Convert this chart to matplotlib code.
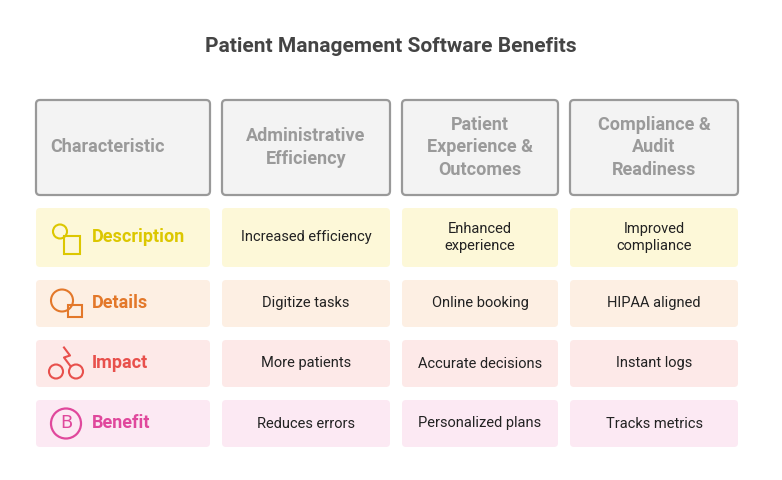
import matplotlib
matplotlib.use("Agg")
import matplotlib.pyplot as plt
from matplotlib.patches import FancyBboxPatch, Circle, Rectangle

title = "Patient Management Software Benefits"
headers = ["Characteristic", "Administrative\nEfficiency", "Patient\nExperience &\nOutcomes", "Compliance &\nAudit\nReadiness"]
row_labels = ["Description", "Details", "Impact", "Benefit"]
cells = [
    ["Increased efficiency", "Enhanced\nexperience", "Improved\ncompliance"],
    ["Digitize tasks", "Online booking", "HIPAA aligned"],
    ["More patients", "Accurate decisions", "Instant logs"],
    ["Reduces errors", "Personalized plans", "Tracks metrics"],
]
row_fill = ["#fdf8d8", "#fdefe3", "#fde9e8", "#fce9f3"]
row_color = ["#dcc700", "#e3782a", "#e8504c", "#e0489c"]

col_x = [(36, 210), (222, 390), (402, 558), (570, 738)]
row_y = [(208, 267), (280, 327), (340, 387), (400, 447)]
head_y = (100, 195)

fig = plt.figure(figsize=(7.82, 4.8), dpi=100)
ax = fig.add_axes([0, 0, 1, 1])
ax.set_xlim(0, 782); ax.set_ylim(480, 0); ax.axis("off")

def box(x0, x1, y0, y1, fc, ec=None, lw=0):
    ax.add_patch(FancyBboxPatch((x0 + 3, y0 + 3), x1 - x0 - 6, y1 - y0 - 6,
                                boxstyle="round,pad=3,rounding_size=4",
                                fc=fc, ec=ec if ec else fc, lw=lw))

ax.text(391, 47, title, ha="center", va="center", fontsize=15, fontweight="bold",
        color="#444444", family="Roboto")

for i, (x0, x1) in enumerate(col_x):
    box(x0, x1, *head_y, "#f3f3f3", "#999999", 1.6)
    cx = (x0 + x1) / 2 if i else x0 + 14
    ax.text(cx, (head_y[0] + head_y[1]) / 2, headers[i], ha="center" if i else "left",
            va="center", fontsize=13, fontweight="bold", color="#9a9a9a",
            family="Roboto", linespacing=1.3)

for r, (y0, y1) in enumerate(row_y):
    cy = (y0 + y1) / 2
    for c, (x0, x1) in enumerate(col_x):
        box(x0, x1, y0, y1, row_fill[r])
        if c == 0:
            ax.text(92, cy, row_labels[r], ha="left", va="center", fontsize=13,
                    fontweight="bold", color=row_color[r], family="Roboto")
        else:
            ax.text((x0 + x1) / 2, cy, cells[r][c - 1], ha="center", va="center",
                    fontsize=10.5, color="#222222", family="Roboto", linespacing=1.3)
    # simple icons
    col = row_color[r]
    ix = 66
    if r == 0:
        ax.add_patch(Circle((ix - 6, cy - 6), 7, fill=False, ec=col, lw=1.5))
        ax.add_patch(Rectangle((ix - 2, cy - 2), 16, 18, fill=False, ec=col, lw=1.5))
    elif r == 1:
        ax.add_patch(Circle((ix - 4, cy - 3), 11, fill=False, ec=col, lw=1.5))
        ax.add_patch(Rectangle((ix + 2, cy + 1), 14, 12, fill=False, ec=col, lw=1.5))
    elif r == 2:
        ax.plot([ix - 2, ix + 4, ix - 2, ix + 4], [cy - 16, cy - 8, cy - 6, cy + 2], color=col, lw=1.5)
        ax.add_patch(Circle((ix - 10, cy + 8), 7, fill=False, ec=col, lw=1.5))
        ax.add_patch(Circle((ix + 10, cy + 8), 7, fill=False, ec=col, lw=1.5))
    else:
        ax.add_patch(Circle((ix, cy), 15, fill=False, ec=col, lw=1.6))
        ax.text(ix, cy, "B", ha="center", va="center", fontsize=13, color=col, family="DejaVu Sans")

fig.savefig("out.png", dpi=100)
